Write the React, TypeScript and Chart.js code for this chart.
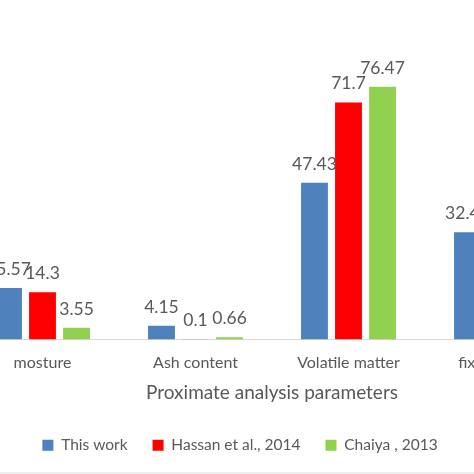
import { useEffect, useRef } from "react";
import { Chart, registerables } from "chart.js";

Chart.register(...registerables);

const categories = ["mosture", "Ash content", "Volatile matter", "fixed carbon"];
const thisWork = [15.57, 4.15, 47.43, 32.45];
const hassan = [14.3, 0.1, 71.7, 13.9];
const chaiya = [3.55, 0.66, 76.47, 19.32];

const FONT = "Lato, 'Open Sans', sans-serif";
const TEXT = "#595959";

// numbers above the bars
const valueLabels = {
  id: "valueLabels",
  afterDatasetsDraw(chart: Chart) {
    const ctx = chart.ctx;
    ctx.save();
    ctx.font = `17.5px ${FONT}`;
    ctx.fillStyle = TEXT;
    ctx.textAlign = "center";
    ctx.textBaseline = "alphabetic";
    chart.data.datasets.forEach((ds, i) => {
      chart.getDatasetMeta(i).data.forEach((bar: any, j) => {
        ctx.fillText(String(ds.data[j]), bar.x, bar.y - 13);
      });
    });
    ctx.restore();
  }
};

// the legend sits a bit left of the plot centre in the original
const legendShift = {
  id: "legendShift",
  afterLayout(chart: Chart) {
    const lg: any = chart.legend;
    if (lg) {
      lg.left -= 32;
      lg.right -= 32;
    }
  }
};

export default function App() {
  const canvasRef = useRef<HTMLCanvasElement | null>(null);

  useEffect(() => {
    if (!canvasRef.current) return;
    const chart = new Chart(canvasRef.current, {
      type: "bar",
      data: {
        labels: categories,
        datasets: [
          { label: "This work", data: thisWork, backgroundColor: "#4f81bd" },
          { label: "Hassan et al., 2014", data: hassan, backgroundColor: "#ff0000" },
          { label: "Chaiya , 2013", data: chaiya, backgroundColor: "#92d050" }
        ]
      },
      options: {
        responsive: false,
        animation: false,
        datasets: { bar: { categoryPercentage: 0.667, barPercentage: 0.79 } },
        layout: { padding: { left: 6, right: 12, top: 42, bottom: 11 } },
        scales: {
          x: {
            grid: { display: false },
            border: { display: true, color: "#d9d9d9" },
            ticks: { color: TEXT, font: { family: FONT, size: 16 }, padding: 6 },
            title: {
              display: true,
              text: "Proximate analysis parameters",
              color: TEXT,
              font: { family: FONT, size: 19 },
              padding: { top: 3, bottom: 8 }
            }
          },
          y: { display: false, min: 0, max: 90 }
        },
        plugins: {
          legend: {
            position: "bottom",
            labels: {
              color: TEXT,
              font: { family: FONT, size: 15.5 },
              boxWidth: 11,
              boxHeight: 11,
              padding: 25
            }
          },
          tooltip: { enabled: false }
        }
      },
      plugins: [valueLabels, legendShift]
    });
    return () => chart.destroy();
  }, []);

  return (
    <div
      style={{
        position: "fixed",
        left: 0,
        top: 0,
        width: 474,
        height: 474,
        overflow: "hidden",
        background: "#fff"
      }}
    >
      <div style={{ position: "absolute", left: -40, top: 0 }}>
        <canvas ref={canvasRef} width={630} height={474} />
      </div>
      <div
        style={{
          position: "absolute",
          left: 0,
          top: 472,
          width: 474,
          height: 2,
          background: "#eeeeee"
        }}
      />
    </div>
  );
}
